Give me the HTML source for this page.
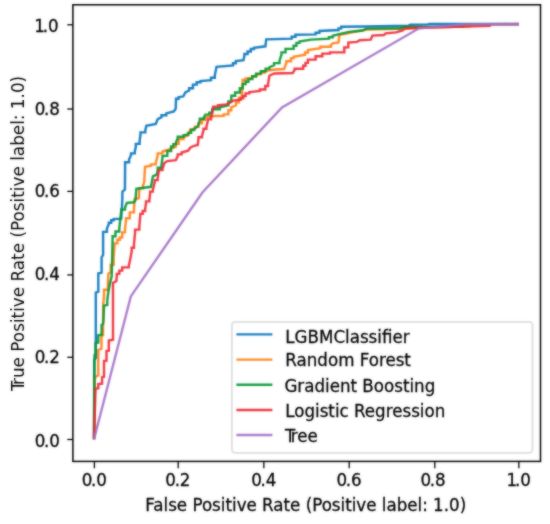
<!DOCTYPE html>
<html><head><meta charset="utf-8"><title>ROC curves</title>
<style>
html,body{margin:0;padding:0;background:#fff;}
svg{display:block;}
text{font-family:"DejaVu Sans","Liberation Sans",sans-serif;font-size:17.5px;fill:#000000;stroke:#000000;stroke-width:0.28px;}
</style></head><body>
<svg width="550" height="524" viewBox="0 0 550 524">
<defs><filter id="soft" x="-20" y="-20" width="590" height="564" filterUnits="userSpaceOnUse" color-interpolation-filters="sRGB"><feGaussianBlur in="SourceGraphic" stdDeviation="0.9" result="b"/><feComposite in="SourceGraphic" in2="b" operator="arithmetic" k1="0" k2="0.45" k3="0.55" k4="0"/></filter></defs>
<g filter="url(#soft)">
<rect x="-20" y="-20" width="590" height="564" fill="#ffffff"/>
<g fill="none" stroke-width="2.4" stroke-linejoin="miter" stroke-linecap="butt" stroke-opacity="0.9">
<path d="M94.0 439.3 L94.2 360.0 L95.8 358.0 L95.8 292.6 L98.3 291.6 L98.3 273.5 L101.6 272.5 L101.6 257.3 L103.1 255.0 L103.1 235.3 L103.1 231.9 L106.9 231.9 L106.9 228.6 L108.8 223.9 L108.8 222.7 L111.2 222.7 L111.2 220.3 L113.6 220.3 L113.6 219.1 L121.2 218.7 L122.3 200.0 L122.4 191.6 L124.9 189.7 L125.1 165.5 L125.1 162.3 L129.1 162.3 L129.1 159.2 L131.0 155.3 L131.0 153.4 L134.8 153.4 L134.8 151.5 L135.8 146.8 L135.8 143.9 L139.6 143.9 L139.6 141.0 L140.5 134.4 L140.5 132.4 L145.3 132.4 L145.3 130.5 L146.3 125.8 L155.8 123.9 L157.7 119.1 L161.5 117.2 L161.5 115.3 L166.3 115.3 L166.3 113.4 L173.9 111.5 L175.7 108.6 L176.0 100.2 L176.0 98.8 L178.6 98.8 L178.6 97.3 L183.4 96.3 L185.3 92.5 L189.1 90.6 L189.1 88.2 L192.9 88.2 L192.9 85.8 L192.9 84.6 L196.7 84.6 L196.7 82.3 L200.5 82.3 L200.5 81.1 L211.0 80.1 L211.0 77.7 L214.8 77.7 L214.8 75.3 L216.5 66.8 L233.0 65.4 L233.0 63.2 L235.8 63.2 L235.8 61.0 L243.5 60.1 L244.4 55.3 L244.4 54.0 L247.6 54.0 L247.6 51.5 L250.8 51.5 L250.8 49.0 L254.0 49.0 L254.0 47.7 L265.4 46.3 L266.2 39.3 L291.7 38.6 L291.7 36.7 L295.5 36.7 L295.5 34.8 L315.6 34.4 L315.6 32.7 L319.4 32.7 L319.4 31.0 L338.5 30.0 L338.5 28.4 L341.3 28.4 L341.3 26.8 L365.0 26.5 L408.4 25.8 L410.3 24.8 L427.5 24.4 L429.4 24.0 L519.0 24.0" stroke="#0072bd"/>
<path d="M94.0 439.3 L94.8 380.0 L95.8 376.3 L98.3 375.4 L98.3 350.0 L101.5 348.7 L101.5 336.3 L103.0 335.3 L103.2 304.0 L103.7 300.0 L104.0 295.4 L104.0 289.7 L107.9 289.7 L107.9 284.0 L108.4 273.5 L110.7 272.5 L110.7 264.9 L113.6 264.9 L113.6 257.3 L114.5 245.8 L114.5 243.4 L117.4 243.4 L117.4 241.0 L117.4 239.8 L119.8 239.8 L119.8 237.5 L122.2 237.5 L122.2 236.3 L122.2 232.4 L125.0 232.4 L125.0 228.6 L126.0 221.0 L126.0 218.2 L129.8 218.2 L129.8 215.3 L129.8 212.4 L134.0 212.4 L134.0 209.5 L134.6 199.0 L139.0 198.2 L139.2 190.5 L139.2 188.2 L142.9 188.2 L142.9 186.0 L144.2 182.0 L145.0 166.8 L151.0 165.8 L151.0 164.4 L155.8 164.4 L155.8 163.0 L157.7 155.3 L157.7 153.4 L162.5 153.4 L162.5 151.5 L167.3 150.0 L171.1 148.7 L175.8 146.8 L175.8 143.9 L178.7 143.9 L178.7 141.0 L178.7 139.1 L183.5 139.1 L183.5 137.2 L188.2 135.3 L190.2 129.6 L195.0 129.0 L195.0 126.8 L198.5 126.8 L198.5 124.5 L198.5 123.2 L202.0 123.2 L202.0 121.8 L202.0 119.7 L205.0 119.7 L205.0 117.5 L214.1 116.0 L223.6 115.8 L223.6 114.4 L228.4 114.4 L228.4 113.0 L228.4 110.2 L231.3 110.2 L231.3 107.3 L236.0 105.3 L236.0 102.4 L238.9 102.4 L238.9 99.6 L238.9 97.7 L241.8 97.7 L241.8 95.8 L242.7 81.5 L242.7 80.0 L245.6 80.0 L245.6 78.6 L252.3 77.7 L252.3 76.2 L256.1 76.2 L256.1 74.8 L260.8 73.9 L260.8 72.5 L264.7 72.5 L264.7 71.0 L275.2 69.5 L284.1 69.0 L286.3 63.0 L286.3 61.2 L291.0 61.2 L291.0 59.5 L291.0 58.1 L293.6 58.1 L293.6 56.8 L305.1 54.8 L305.1 52.5 L307.9 52.5 L307.9 50.1 L320.3 48.2 L320.3 46.8 L330.8 46.8 L330.8 45.3 L332.7 43.4 L338.5 42.4 L339.4 34.8 L345.2 33.9 L355.0 31.7 L366.5 29.6 L402.7 28.6 L455.0 26.7 L470.0 26.3 L471.0 24.1 L519.0 24.1" stroke="#ff7d10"/>
<path d="M94.0 439.3 L94.5 355.0 L95.5 354.0 L95.5 343.0 L98.3 342.5 L98.3 335.3 L101.6 334.8 L101.6 324.8 L103.0 324.0 L103.5 320.0 L104.0 305.7 L107.3 305.0 L107.3 300.0 L108.4 291.6 L109.8 284.0 L111.7 276.3 L112.2 257.3 L112.6 238.2 L112.6 236.3 L115.5 236.3 L115.5 234.4 L115.5 231.5 L119.3 231.5 L119.3 228.6 L120.3 219.1 L121.2 211.5 L121.2 209.6 L125.0 209.6 L125.0 207.6 L126.9 202.9 L134.0 202.3 L135.5 200.0 L136.3 188.7 L151.0 186.8 L152.9 176.3 L156.8 174.4 L157.7 170.6 L157.7 167.8 L161.5 167.8 L161.5 164.9 L162.5 157.3 L162.5 155.9 L167.3 155.9 L167.3 154.4 L167.3 151.1 L171.1 151.1 L171.1 147.7 L171.1 146.5 L173.4 146.5 L173.4 144.1 L175.8 144.1 L175.8 142.9 L177.7 138.2 L177.7 136.8 L183.5 136.8 L183.5 135.3 L188.2 134.4 L188.2 132.9 L191.1 132.9 L191.1 130.0 L194.0 130.0 L194.0 128.6 L197.8 126.5 L199.8 120.3 L199.8 118.7 L204.0 118.7 L204.0 117.0 L205.4 114.6 L209.3 114.5 L209.3 112.8 L212.2 112.8 L212.2 111.1 L212.2 109.2 L219.8 109.2 L219.8 107.3 L228.4 105.3 L228.4 101.5 L231.3 101.5 L231.3 97.7 L231.3 95.8 L235.1 95.8 L235.1 93.9 L235.1 92.5 L239.8 92.5 L239.8 91.0 L239.8 88.2 L242.7 88.2 L242.7 85.3 L242.7 84.1 L245.6 84.1 L245.6 81.7 L248.4 81.7 L248.4 80.5 L248.4 79.1 L252.3 79.1 L252.3 77.7 L252.3 76.2 L256.1 76.2 L256.1 74.8 L256.1 73.6 L260.9 73.6 L260.9 71.2 L265.6 71.2 L265.6 70.0 L265.6 68.6 L269.4 68.6 L269.4 67.2 L274.0 65.3 L274.0 63.1 L279.5 63.1 L279.5 61.0 L281.5 54.3 L281.5 52.4 L285.5 52.4 L285.5 50.5 L285.5 48.9 L293.6 48.9 L293.6 47.2 L293.6 45.8 L296.5 45.8 L296.5 42.9 L299.4 42.9 L299.4 41.5 L310.8 39.6 L328.9 38.6 L328.9 37.2 L332.7 37.2 L332.7 35.8 L340.4 33.9 L349.0 31.9 L362.6 30.5 L366.5 28.6 L400.8 28.2 L402.7 26.7 L463.0 26.5 L464.0 24.1 L519.0 24.1" stroke="#00952c"/>
<path d="M94.0 439.3 L95.2 400.0 L95.5 388.7 L98.3 388.2 L98.3 384.0 L102.1 383.6 L102.1 377.3 L104.0 376.9 L104.0 361.1 L106.5 360.7 L106.5 351.1 L108.8 350.8 L108.8 340.5 L113.0 339.7 L113.0 283.0 L116.4 281.1 L116.8 275.4 L116.8 273.9 L119.3 273.9 L119.3 272.5 L119.3 270.6 L122.2 270.6 L122.2 268.7 L122.2 267.4 L128.8 267.4 L128.8 266.0 L130.8 256.3 L131.7 251.5 L131.7 247.7 L134.0 247.7 L134.0 243.9 L135.1 232.4 L135.1 229.6 L139.3 229.6 L139.3 226.7 L140.3 215.3 L140.3 213.9 L142.7 213.9 L142.7 211.0 L145.1 211.0 L145.1 209.5 L146.0 202.9 L146.0 201.4 L149.4 201.4 L149.4 200.0 L150.1 193.5 L150.1 191.6 L152.9 191.6 L152.9 189.7 L154.8 182.1 L154.8 180.1 L157.7 180.1 L157.7 178.2 L158.7 171.6 L158.7 170.1 L162.5 170.1 L162.5 168.7 L164.4 163.0 L167.3 161.1 L175.8 160.1 L177.7 156.3 L177.7 154.4 L181.6 154.4 L181.6 152.5 L188.2 150.6 L190.2 147.7 L194.0 145.8 L197.8 145.0 L198.5 138.5 L198.5 137.2 L202.0 137.2 L202.0 136.0 L203.5 130.3 L203.5 128.7 L206.4 128.7 L206.4 127.0 L207.8 120.8 L207.8 119.4 L211.0 119.4 L211.0 118.0 L213.1 108.2 L213.1 106.8 L217.9 106.8 L217.9 105.3 L226.5 104.4 L230.3 102.5 L233.2 100.6 L240.8 99.6 L240.8 98.4 L243.2 98.4 L243.2 96.0 L245.6 96.0 L245.6 94.8 L245.6 93.4 L249.4 93.4 L249.4 92.0 L259.9 91.0 L259.9 89.5 L265.3 89.5 L265.3 88.0 L265.3 86.0 L268.0 86.0 L268.0 84.0 L269.5 75.5 L274.5 73.5 L292.7 73.0 L294.6 70.1 L294.6 68.7 L303.2 68.7 L303.2 67.3 L303.2 65.8 L305.5 65.8 L305.5 62.9 L307.9 62.9 L307.9 61.5 L307.9 59.6 L315.6 59.6 L315.6 57.7 L315.6 56.2 L322.3 56.2 L322.3 54.8 L322.3 53.6 L330.0 53.6 L330.0 52.4 L344.3 52.2 L344.3 47.4 L348.3 47.4 L348.3 42.5 L356.9 41.9 L359.8 40.2 L370.7 39.6 L372.4 35.6 L383.8 35.0 L385.6 33.3 L396.0 32.4 L402.7 30.5 L404.6 28.6 L418.0 27.7 L455.0 26.7 L489.8 25.8 L491.0 24.1 L519.0 24.1" stroke="#ee2530"/>
<path d="M94.0 439.3 L130.8 296.4 L202.4 192.5 L282.0 107.5 L419.0 28.3 L463.0 24.5 L519.0 24.0" stroke="#a36fc6"/>
</g>
<rect x="72.9" y="4.8" width="467.6" height="456.6" fill="none" stroke="#000000" stroke-width="1.5"/>
<g stroke="#000000" stroke-width="1.3">
<line x1="94.40" y1="461.4" x2="94.40" y2="468.3"/><line x1="178.20" y1="461.4" x2="178.20" y2="468.3"/><line x1="263.85" y1="461.4" x2="263.85" y2="468.3"/><line x1="349.20" y1="461.4" x2="349.20" y2="468.3"/><line x1="434.80" y1="461.4" x2="434.80" y2="468.3"/><line x1="518.85" y1="461.4" x2="518.85" y2="468.3"/>
<line x1="67.3" y1="439.50" x2="72.9" y2="439.50"/><line x1="67.3" y1="357.30" x2="72.9" y2="357.30"/><line x1="67.3" y1="274.90" x2="72.9" y2="274.90"/><line x1="67.3" y1="191.40" x2="72.9" y2="191.40"/><line x1="67.3" y1="109.00" x2="72.9" y2="109.00"/><line x1="67.3" y1="24.80" x2="72.9" y2="24.80"/>
</g>
<text transform="translate(94.2,485.6) scale(0.9543,1)" text-anchor="middle" dx="0 -1.4 -0.1">0.0</text><text transform="translate(177.9,485.6) scale(0.9543,1)" text-anchor="middle" dx="0 -1.4 -0.1">0.2</text><text transform="translate(263.7,485.6) scale(0.9543,1)" text-anchor="middle" dx="0 -1.4 -0.1">0.4</text><text transform="translate(349.1,485.6) scale(0.9543,1)" text-anchor="middle" dx="0 -1.4 -0.1">0.6</text><text transform="translate(433.1,485.6) scale(0.9543,1)" text-anchor="middle" dx="0 -1.4 -0.1">0.8</text><text transform="translate(518.7,485.6) scale(0.9543,1)" text-anchor="middle" dx="0 -2.2 -0.2">1.0</text>
<text transform="translate(59.9,447.3) scale(0.9543,1)" text-anchor="end" dx="0 -1.4 -0.1">0.0</text><text transform="translate(59.9,363.4) scale(0.9543,1)" text-anchor="end" dx="0 -1.4 -0.1">0.2</text><text transform="translate(59.9,280.3) scale(0.9543,1)" text-anchor="end" dx="0 -1.4 -0.1">0.4</text><text transform="translate(59.9,197.1) scale(0.9543,1)" text-anchor="end" dx="0 -1.4 -0.1">0.6</text><text transform="translate(59.9,114.6) scale(0.9543,1)" text-anchor="end" dx="0 -1.4 -0.1">0.8</text><text transform="translate(58.5,32.3) scale(0.9543,1)" text-anchor="end" dx="0 -2.2 -0.2">1.0</text>
<text transform="translate(305.7,510.5) scale(0.9543,1)" text-anchor="middle">False Positive Rate (Positive label: 1.0)</text>
<text transform="translate(24.2,233.4) rotate(-90) scale(0.9619,1)" text-anchor="middle" style="stroke:none" dx="0 -1.9">True Positive Rate (Positive label: 1.0)</text>
<rect x="231.9" y="321.9" width="300.6" height="131.0" rx="3.3" ry="3.3" fill="#ffffff" fill-opacity="0.8" stroke="#dedede" stroke-width="1.8"/>
<line x1="236.4" y1="334.4" x2="272.4" y2="334.4" stroke="#0072bd" stroke-width="2.4" stroke-opacity="0.9"/><text transform="translate(285.3,342.8) scale(0.9543,1)" text-anchor="start">LGBMClassifier</text>
<line x1="236.4" y1="359.6" x2="272.4" y2="359.6" stroke="#ff7d10" stroke-width="2.4" stroke-opacity="0.9"/><text transform="translate(285.3,366.4) scale(0.9543,1)" text-anchor="start">Random Forest</text>
<line x1="236.4" y1="384.7" x2="272.4" y2="384.7" stroke="#00952c" stroke-width="2.4" stroke-opacity="0.9"/><text transform="translate(284.4,391.8) scale(0.9543,1)" text-anchor="start">Gradient Boosting</text>
<line x1="236.4" y1="410.0" x2="272.4" y2="410.0" stroke="#ee2530" stroke-width="2.4" stroke-opacity="0.9"/><text transform="translate(285.2,416.7) scale(0.9543,1)" text-anchor="start">Logistic Regression</text>
<line x1="236.4" y1="435.0" x2="272.4" y2="435.0" stroke="#a36fc6" stroke-width="2.4" stroke-opacity="0.9"/><text transform="translate(284.9,441.8) scale(0.9543,1)" text-anchor="start" dx="0 -1.9">Tree</text>
</g>
</svg>
</body></html>
